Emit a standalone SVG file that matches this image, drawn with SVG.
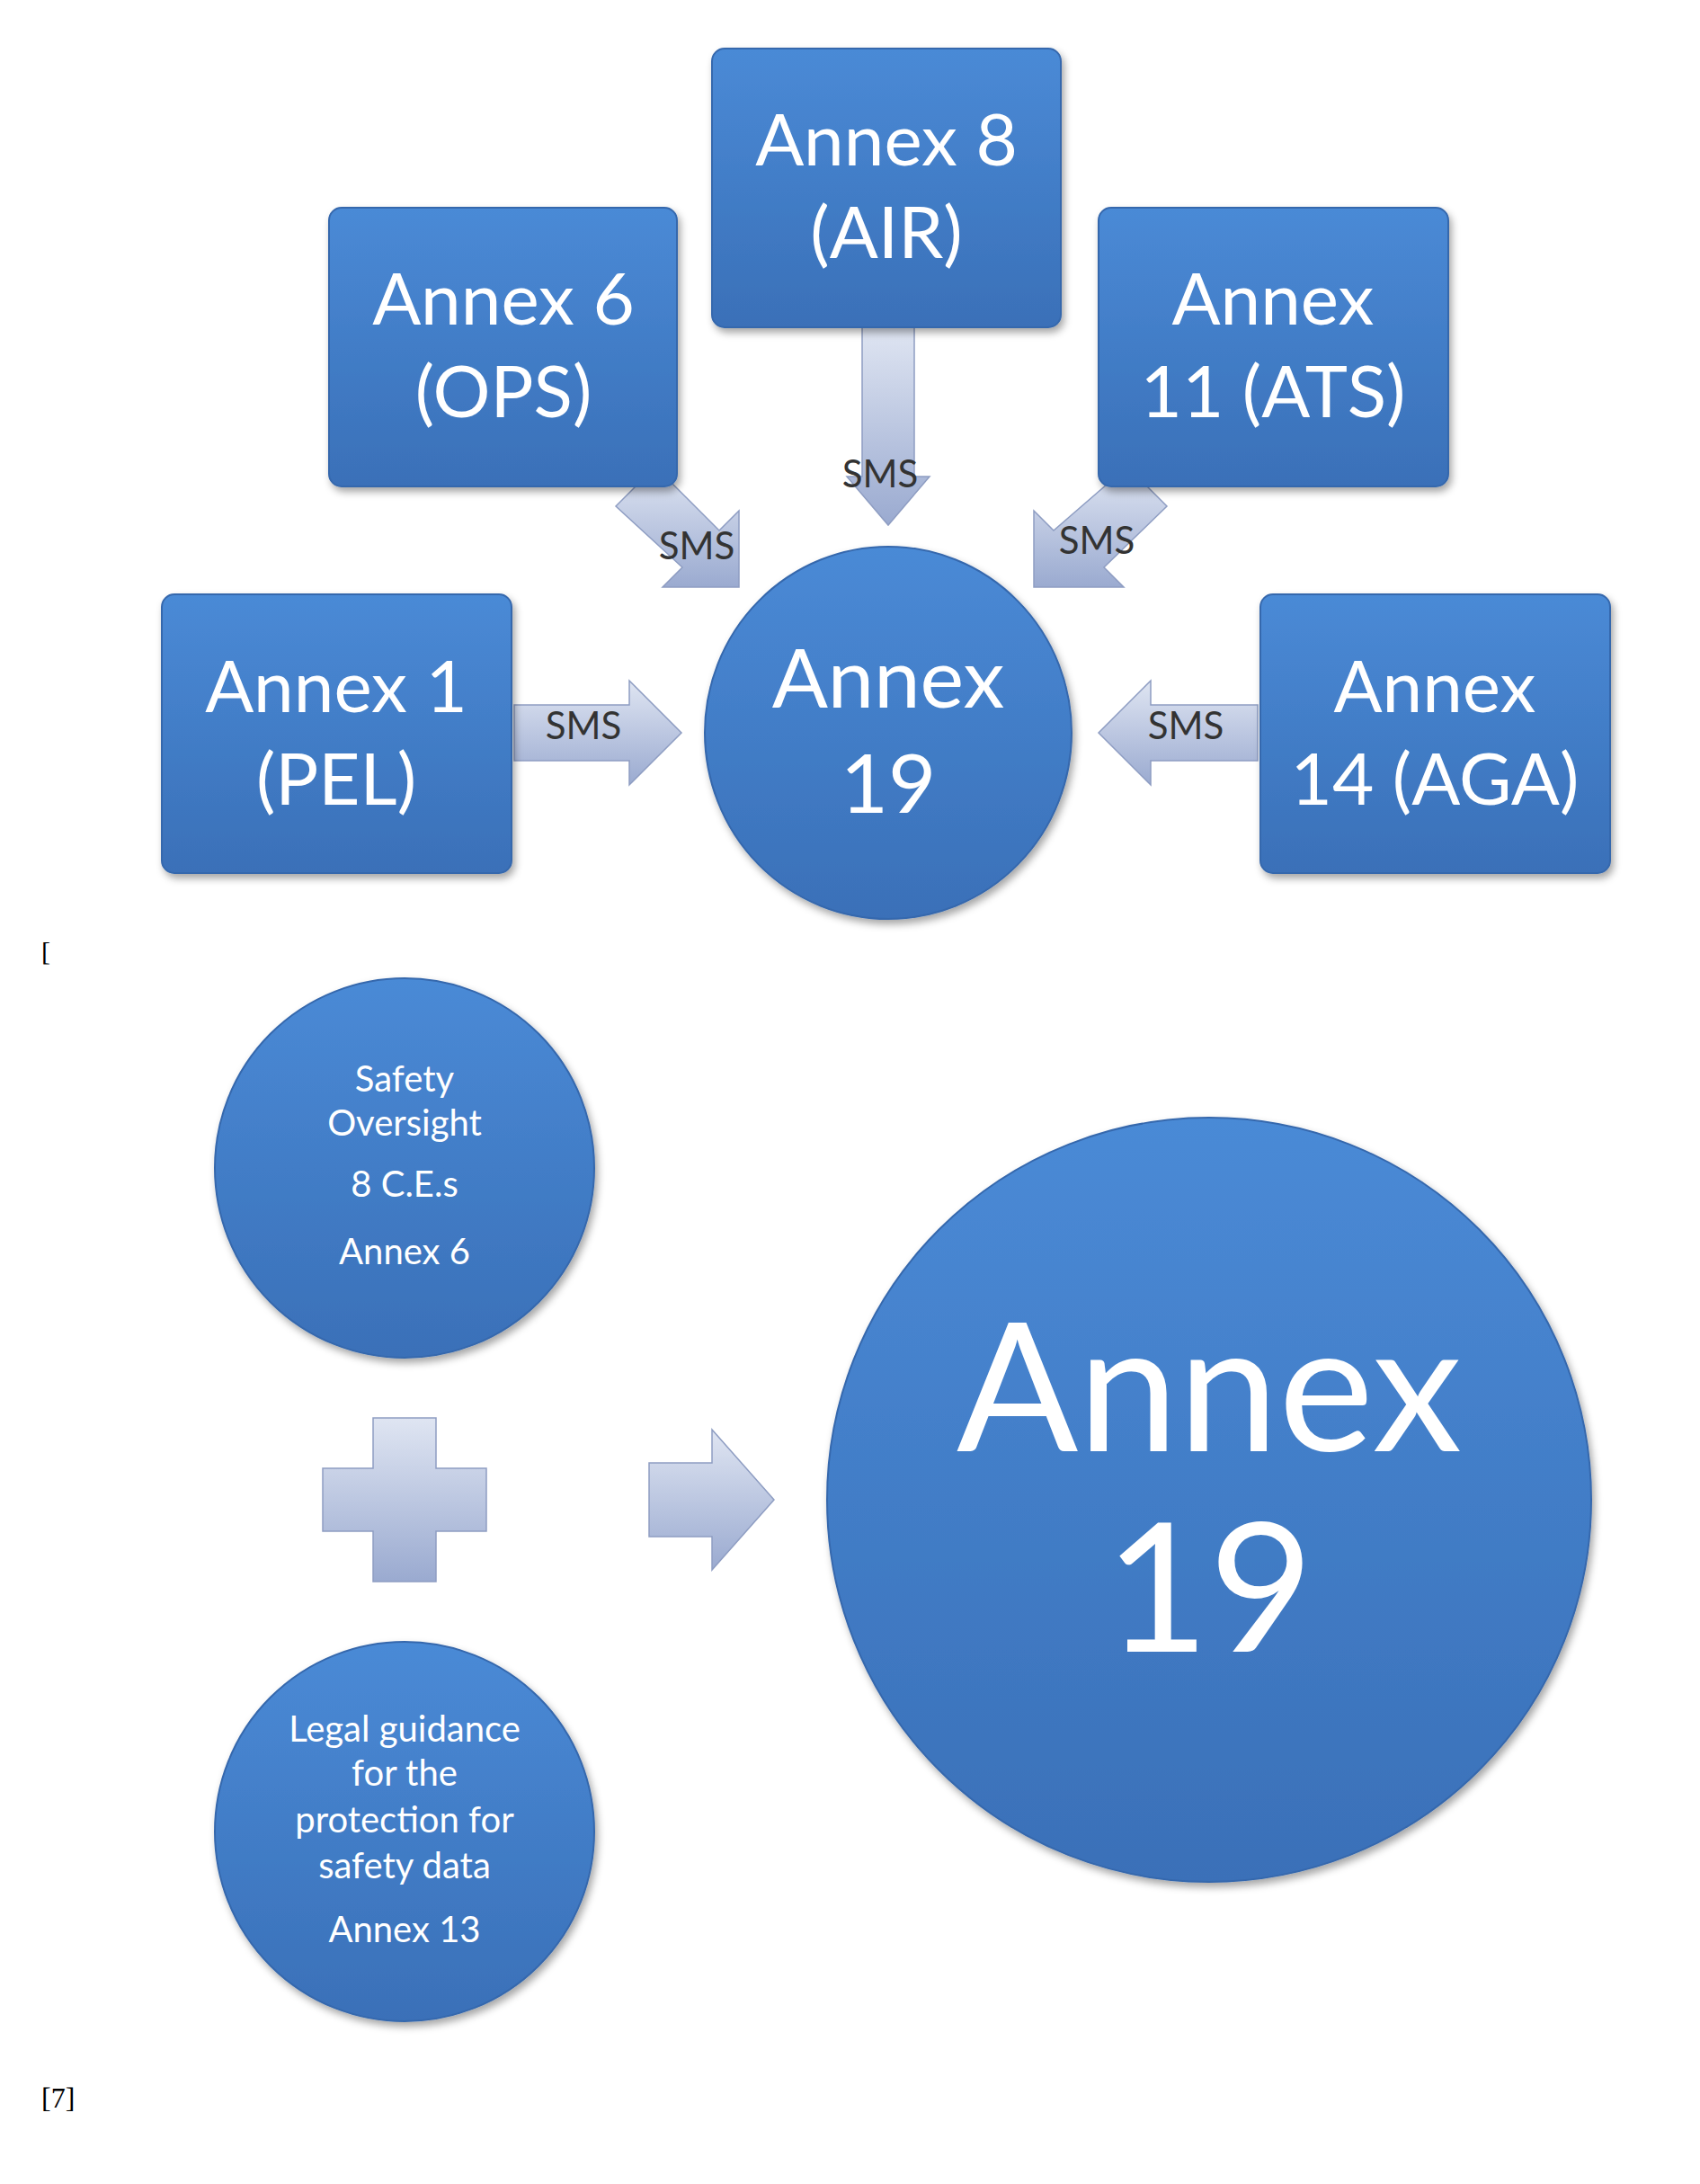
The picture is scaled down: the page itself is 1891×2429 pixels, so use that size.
<svg xmlns="http://www.w3.org/2000/svg" width="1891" height="2429" viewBox="0 0 1891 2429">
<defs>
<linearGradient id="bg" x1="0" y1="0" x2="0" y2="1"><stop offset="0" stop-color="#4a8ad6"/><stop offset="1" stop-color="#3a70b8"/></linearGradient>
<linearGradient id="ag" x1="0" y1="0" x2="0" y2="1"><stop offset="0" stop-color="#dfe5f2"/><stop offset="1" stop-color="#9aaad0"/></linearGradient>
<filter id="sh" x="-10%" y="-10%" width="125%" height="125%"><feDropShadow dx="3" dy="5" stdDeviation="4" flood-color="#000" flood-opacity="0.35"/></filter>
<style>
.n{fill:url(#bg);stroke:#3668ad;stroke-width:2;filter:url(#sh)}
.t{fill:#fff;font-family:Lato,"Open Sans",sans-serif;text-anchor:middle}
.a{fill:url(#ag);stroke:#8e9dc2;stroke-width:1.5}
.s{fill:#333;font-family:Lato,"Open Sans",sans-serif;font-size:42px;text-anchor:middle}
</style>
</defs>
<rect width="1891" height="2429" fill="#fff"/>
<g id="connectors">
<polygon class="a" points="572,784 700,784 700,757 758,815 700,873 700,846 572,846"/>
<polygon class="a" points="1399,784 1280,784 1280,757 1222,815 1280,873 1280,846 1399,846"/>
<polygon class="a" points="959,364 1017,364 1017,530 1034,530 988,584 942,530 959,530"/>
<polygon class="a" points="685,563 729,519 800,590 822,568 822,653 737,653 759,631"/>
<polygon class="a" points="1254,519 1298,563 1228,631 1250,653 1150,653 1150,568 1172,590"/>
<polygon class="a" points="722,1627 792,1627 792,1590 861,1668 792,1746 792,1709 722,1709"/>
<text class="s" x="649" y="822">SMS</text>
<text class="s" x="1319" y="822">SMS</text>
<text class="s" x="979" y="542">SMS</text>
<text class="s" x="775" y="622">SMS</text>
<text class="s" x="1220" y="616">SMS</text>
</g>
<g id="annex8"><rect class="n" x="792" y="54" width="388" height="310" rx="14"/><text class="t" font-size="80" x="986" y="184">Annex 8</text><text class="t" font-size="80" x="986" y="287">(AIR)</text></g>
<g id="annex6"><rect class="n" x="366" y="231" width="387" height="310" rx="14"/><text class="t" font-size="80" x="560" y="361">Annex 6</text><text class="t" font-size="80" x="560" y="464">(OPS)</text></g>
<g id="annex11"><rect class="n" x="1222" y="231" width="389" height="310" rx="14"/><text class="t" font-size="80" x="1416" y="361">Annex</text><text class="t" font-size="80" x="1416" y="464">11 (ATS)</text></g>
<g id="annex1"><rect class="n" x="180" y="661" width="389" height="310" rx="14"/><text class="t" font-size="80" x="374" y="792">Annex 1</text><text class="t" font-size="80" x="374" y="895">(PEL)</text></g>
<g id="annex14"><rect class="n" x="1402" y="661" width="389" height="310" rx="14"/><text class="t" font-size="80" x="1596" y="792">Annex</text><text class="t" font-size="80" x="1596" y="895">14 (AGA)</text></g>
<g id="annex19a"><ellipse class="n" cx="988" cy="815" rx="204" ry="207"/><text class="t" font-size="92" x="988" y="787">Annex</text><text class="t" font-size="92" x="988" y="904">19</text></g>
<text x="46" y="1068" font-family="Liberation Serif,serif" font-size="30" fill="#000">[</text>
<g id="safety"><circle class="n" cx="450" cy="1299" r="211"/>
<text class="t" font-size="40" x="450" y="1214">Safety</text><text class="t" font-size="40" x="450" y="1263">Oversight</text><text class="t" font-size="40" x="450" y="1331">8 C.E.s</text><text class="t" font-size="40" x="450" y="1406">Annex 6</text></g>
<g id="plus"><polygon class="a" points="415,1577 485,1577 485,1633 541,1633 541,1703 485,1703 485,1759 415,1759 415,1703 359,1703 359,1633 415,1633"/></g>
<g id="legal"><circle class="n" cx="450" cy="2037" r="211"/>
<text class="t" font-size="40" x="450" y="1937">Legal guidance</text><text class="t" font-size="40" x="450" y="1986">for the</text><text class="t" font-size="40" x="450" y="2038">protection for</text><text class="t" font-size="40" x="450" y="2089">safety data</text><text class="t" font-size="40" x="450" y="2160">Annex 13</text></g>
<g id="annex19b"><circle class="n" cx="1345" cy="1668" r="425"/><text class="t" font-size="200" x="1345" y="1614">Annex</text><text class="t" font-size="200" x="1345" y="1837">19</text></g>
<text x="46" y="2344" font-family="Liberation Serif,serif" font-size="32" fill="#000">[7]</text>
</svg>
